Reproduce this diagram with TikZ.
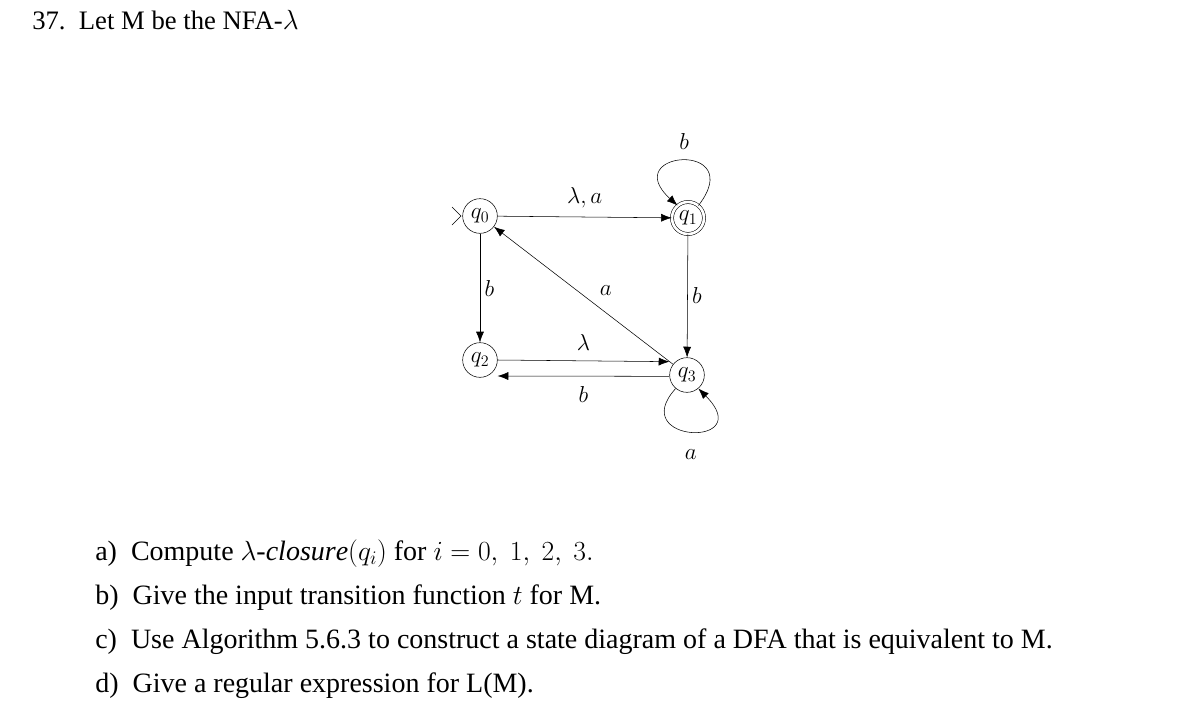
\documentclass[tikz,border=0pt]{standalone}
\usepackage{fontspec}
\setmainfont{Liberation Serif}
\usetikzlibrary{arrows.meta}
\begin{document}
\begin{tikzpicture}[x=0.75pt,y=-0.75pt,
 st/.style={draw,circle,minimum size=26pt,inner sep=0pt,font=\fontsize{18}{18}\selectfont},
 acc/.style={st,double,double distance=2pt,minimum size=24pt},
 tr/.style={-{Latex[length=8pt,width=6pt]},thin},
 lb/.style={font=\fontsize{17}{17}\selectfont},
 tx/.style={anchor=base west,font=\fontsize{21}{21}\selectfont,inner sep=0pt}]
\useasboundingbox (0,0) rectangle (1190,704);
\node[tx,font=\fontsize{20}{20}\selectfont] (title) at (32,29) {37.\ \ Let M be the NFA-$\lambda$};
\node[st] (q0) at (480,216) {$q_0$};
\node[acc] (q1) at (688,218) {$q_1$};
\node[st] (q2) at (480,360) {$q_2$};
\node[st] (q3) at (687,375) {$q_3$};
\coordinate (s) at (461,216);
\draw[thin] ([shift={(-9,-9)}]s) -- (s) -- ([shift={(-9,9)}]s);
\draw[tr] (q0) -- node[lb,above=3pt]{$\lambda, a$} (q1);
\draw[tr] (q1.50) .. controls +(50,-65) and +(-60,-55) .. (q1.130) node[lb,pos=0.5,above=5pt]{$b$};
\draw[tr] (q0) -- node[lb,right]{$b$} (q2);
\draw[tr] (q1) -- node[lb,right]{$b$} (q3);
\draw[tr] (q3) -- node[lb,pos=0.45,above right=2pt]{$a$} (q0);
\draw[tr] ([yshift=0pt]q2.east) -- node[lb,above=4pt]{$\lambda$} ([yshift=10pt]q3.west);
\draw[tr] ([yshift=-1pt]q3.west) -- node[lb,below=4pt]{$b$} ([yshift=-12pt]q2.east);
\draw[tr] (q3.230) .. controls +(-50,55) and +(60,60) .. (q3.310) node[lb,pos=0.5,below=10pt]{$a$};
\node[tx] (la) at (95,560) {a)\ \ Compute $\lambda$-$\mathit{closure}(q_i)$ for $i=0,\ 1,\ 2,\ 3.$};
\node[tx] (lbb) at (95,604) {b)\ \ Give the input transition function $t$ for M.};
\node[tx] (lc) at (95,648) {c)\ \ Use Algorithm 5.6.3 to construct a state diagram of a DFA that is equivalent to M.};
\node[tx] (ld) at (95,692) {d)\ \ Give a regular expression for L(M).};
\end{tikzpicture}
\end{document}
